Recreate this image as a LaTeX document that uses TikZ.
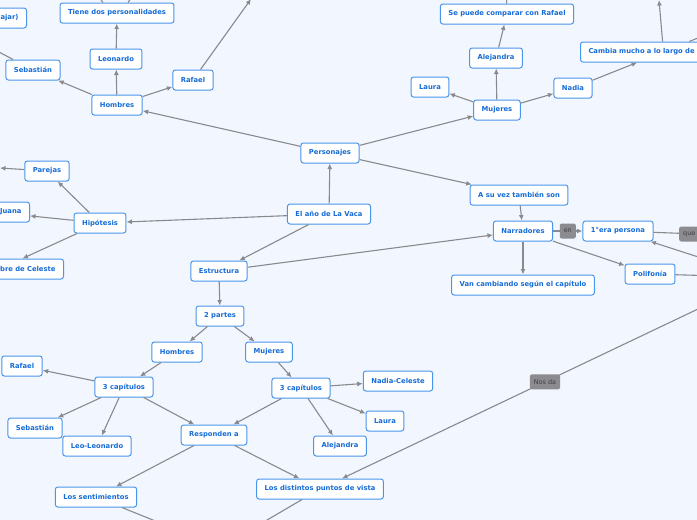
\documentclass[tikz,border=0pt]{standalone}
\usepackage{fontspec}
\setmainfont{DejaVu Sans}
\usepackage{xcolor}
\usepackage{tikz}
\usetikzlibrary{arrows.meta, positioning}
\definecolor{MapBg}{RGB}{242, 246, 254}
\definecolor{MapBlue}{RGB}{74, 150, 236}
\definecolor{MapText}{RGB}{22, 108, 214}
\definecolor{MapLink}{RGB}{138, 138, 142}
\definecolor{MapTag}{RGB}{140, 140, 144}
\definecolor{MapTagText}{RGB}{62, 62, 66}

\tikzset{
  idea/.style={draw=MapBlue, fill=white, line width=1pt, rounded corners=2.5pt,
    minimum height=20pt, inner xsep=8pt, inner ysep=2pt, text=MapText,
    font=\fontsize{6.8}{8}\selectfont\bfseries},
  link/.style={draw=MapLink, line width=1.1pt, -{Latex[length=5.5pt, width=5pt]}},
  plain/.style={draw=MapLink, line width=1.1pt},
  tag/.style={fill=MapTag, rounded corners=2pt, text=MapTagText, minimum height=15pt,
    inner xsep=4pt, inner ysep=1pt, font=\fontsize{6.4}{8}\selectfont}
}

\begin{document}
\begin{tikzpicture}[x=1pt, y=-1pt]
  \fill[MapBg] (0,0) rectangle (697,520);
  \useasboundingbox (0,0) rectangle (697,520);
  \clip (0,0) rectangle (697,520);

  \coordinate (offTieneA) at (92,-12);
  \coordinate (offTieneB) at (138,-12);
  \coordinate (offSeb) at (-20,42);
  \coordinate (offRafael) at (251,-1);
  \coordinate (offSepuede) at (506,-20);
  \coordinate (offCambiaA) at (659,0);
  \coordinate (offCambiaB) at (720,29);
  \coordinate (offParejas) at (0,168);
  \coordinate (offPrim) at (720,264);
  \coordinate (offPoli) at (720,276);
  \coordinate (offNos) at (740,289);
  \coordinate (offSent) at (190,535);
  \coordinate (offDist) at (250,530);

  \node[idea] (personajes) at (330,153) {Personajes};
  \node[idea] (vaca) at (329,214) {El año de La Vaca};
  \node[idea] (hombresA) at (117,105) {Hombres};
  \node[idea] (leonardoA) at (116,59) {Leonardo};
  \node[idea] (tiene) at (117,13) {Tiene dos personalidades};
  \node[idea] (sebastianA) at (33,70) {Sebastián};
  \node[idea] (rafaelA) at (193,80) {Rafael};
  \node[idea, anchor=east, text width=40pt, align=right] (ajar) at (27,18) {ajar)};

  \node[idea] (mujeresA) at (497,110) {Mujeres};
  \node[idea] (lauraA) at (430,87) {Laura};
  \node[idea] (alejandraA) at (496,58) {Alejandra};
  \node[idea] (sepuede) at (507,14) {Se puede comparar con Rafael};
  \node[idea] (nadiaA) at (573,88) {Nadia};
  \node[idea, anchor=west, text width=150pt, align=left] (cambia) at (580,52) {Cambia mucho a lo largo de};

  \node[idea] (hipotesis) at (100,223) {Hipótesis};
  \node[idea] (parejas) at (47,171) {Parejas};
  \node[idea, anchor=east, text width=60pt, align=right] (juana) at (30,212) {Juana};
  \node[idea, anchor=east, text width=112pt, align=right] (celeste) at (64,269) {bre de Celeste};

  \node[idea] (estructura) at (219,271) {Estructura};
  \node[idea] (asuvez) at (519,195) {A su vez también son};
  \node[idea] (narradores) at (523,231) {Narradores};
  \node[idea] (primera) at (618,231) {1°era persona};
  \node[idea] (polifonia) at (650,274) {Polifonía};
  \node[idea] (cambiando) at (523,285) {Van cambiando según el capítulo};
  \node[tag, anchor=west, text width=30pt, align=left] (que) at (679,234) {que};

  \node[idea] (dospartes) at (220,316) {2 partes};
  \node[idea] (hombresB) at (177,352) {Hombres};
  \node[idea] (mujeresB) at (269,352) {Mujeres};
  \node[idea] (capH) at (124,387) {3 capítulos};
  \node[idea] (rafaelB) at (22,366) {Rafael};
  \node[idea] (sebastianB) at (35,428) {Sebastián};
  \node[idea] (leo) at (97,446) {Leo-Leonardo};
  \node[idea] (responden) at (214,435) {Responden a};
  \node[idea] (sentimientos) at (96,497) {Los sentimientos};
  \node[idea] (capM) at (301,388) {3 capítulos};
  \node[idea] (nadiaC) at (398,381) {Nadia-Celeste};
  \node[idea] (lauraB) at (385,421) {Laura};
  \node[idea] (alejandraB) at (340,446) {Alejandra};
  \node[idea] (distintos) at (320,489) {Los distintos puntos de vista};

  \draw[link] (personajes) -- (hombresA);
  \draw[link] (personajes) -- (mujeresA);
  \draw[link] (personajes) -- (asuvez);
  \draw[link] (vaca) -- (personajes);
  \draw[link] (vaca) -- (hipotesis);
  \draw[link] (vaca) -- (estructura);
  \draw[link] (hombresA) -- (leonardoA);
  \draw[link] (leonardoA) -- (tiene);
  \draw[link] (hombresA) -- (sebastianA);
  \draw[link] (hombresA) -- (rafaelA);
  \draw[link] (rafaelA) -- (offRafael);
  \draw[link] (sebastianA) -- (offSeb);
  \draw[link] ([xshift=-14pt]tiene.north) -- (offTieneA);
  \draw[link] ([xshift=11pt]tiene.north) -- (offTieneB);
  \draw[link] (mujeresA) -- (lauraA);
  \draw[link] (mujeresA) -- (alejandraA);
  \draw[link] (mujeresA) -- (nadiaA);
  \draw[link] (alejandraA) -- (sepuede);
  \draw[link] (sepuede) -- (offSepuede);
  \draw[link] (nadiaA) -- (cambia);
  \draw[link] (cambia) -- (offCambiaA);
  \draw[link] (cambia) -- (offCambiaB);
  \draw[link] (hipotesis) -- (parejas);
  \draw[link] (hipotesis) -- (juana);
  \draw[link] (hipotesis) -- (celeste);
  \draw[link] (parejas) -- (offParejas);
  \draw[link] (estructura) -- (narradores);
  \draw[link] (estructura) -- (dospartes);
  \draw[link] (asuvez) -- (narradores);
  \draw[link] (narradores) -- node[tag] {en} (primera);
  \draw[link] (narradores) -- (polifonia);
  \draw[link] (narradores) -- (cambiando);
  \draw[plain] (primera) -- (que);
  \draw[link] (offPrim) -- (primera);
  \draw[link] (polifonia) -- (offPoli);
  \draw[link] (dospartes) -- (hombresB);
  \draw[link] (dospartes) -- (mujeresB);
  \draw[link] (hombresB) -- (capH);
  \draw[link] (mujeresB) -- (capM);
  \draw[link] (capH) -- (rafaelB);
  \draw[link] (capH) -- (sebastianB);
  \draw[link] (capH) -- (leo);
  \draw[link] (capH) -- (responden);
  \draw[link] (capM) -- (nadiaC);
  \draw[link] (capM) -- (lauraB);
  \draw[link] (capM) -- (alejandraB);
  \draw[link] (capM) -- (responden);
  \draw[link] (responden) -- (sentimientos);
  \draw[link] (responden) -- (distintos);
  \draw[link] (sentimientos) -- (offSent);
  \draw[link] (distintos) -- (offDist);
  \draw[link] (offNos) -- node[tag, pos=0.49] {Nos da} (distintos);
\end{tikzpicture}
\end{document}
